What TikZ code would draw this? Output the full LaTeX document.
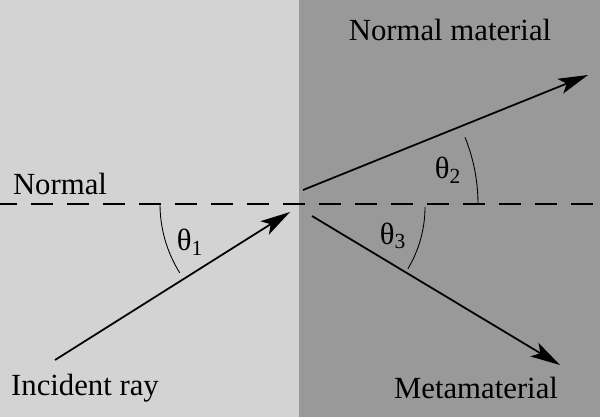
\documentclass[tikz,border=0pt]{standalone}
\usepackage{fontspec}
\setmainfont{Liberation Serif}
\usetikzlibrary{arrows.meta}
\begin{document}
\begin{tikzpicture}[x=0.02cm,y=-0.02cm,
  lbl/.style={font=\fontsize{17.5}{20}\selectfont,inner sep=0pt},
  ray/.style={line width=1pt,-{Stealth[length=17pt,width=9pt,inset=4pt]}},
  arcline/.style={line width=0.5pt}]
\fill[fill={rgb,255:red,211;green,211;blue,211}] (0,0) rectangle (299,417);
\fill[fill={rgb,255:red,153;green,153;blue,153}] (299,0) rectangle (600,417);
\useasboundingbox (0,0) rectangle (600,417);
\coordinate (dl) at (0,204);
\coordinate (dr) at (600,204);
\draw[line width=1.1pt,dash pattern=on 12.5pt off 8pt,dash phase=3pt] (dl) -- (dr);
\coordinate (a1) at (55,360); \coordinate (a2) at (290,212);
\coordinate (b1) at (303,190); \coordinate (b2) at (588,75);
\coordinate (c1) at (312,216); \coordinate (c2) at (560,365);
\draw[ray] (a1) -- (a2);
\draw[ray] (b1) -- (b2);
\draw[ray] (c1) -- (c2);
\draw[arcline] (160,204) arc[start angle=180,end angle=148,radius=130];
\draw[arcline] (478,204) arc[start angle=0,end angle=-22,radius=178];
\draw[arcline] (425,207) arc[start angle=0,end angle=31,radius=120];
\node[lbl] (nm) at (450,30) {Normal material};
\node[lbl] (n) at (60,184) {Normal};
\node[lbl] (ir) at (85,388) {Incident ray};
\node[lbl] (mm) at (476,388) {Metamaterial};
\node[lbl] (t1) at (190,242) {θ\textsubscript{1}};
\node[lbl] (t2) at (448,170) {θ\textsubscript{2}};
\node[lbl] (t3) at (393,236) {θ\textsubscript{3}};
\end{tikzpicture}
\end{document}
